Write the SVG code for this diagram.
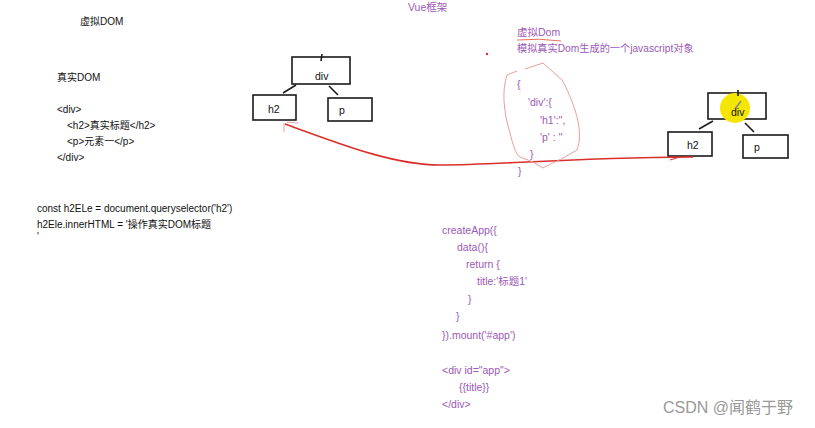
<svg xmlns="http://www.w3.org/2000/svg" width="815" height="428" viewBox="0 0 815 428">
<style>
text{font-family:"Liberation Sans","Noto Sans CJK SC",sans-serif;font-size:10.5px}
.k{fill:#111;font-size:10px}
.pu{fill:#9b59b6}
.box{fill:#fff;stroke:#1a1a1a;stroke-width:1.6}
.ln{stroke:#1a1a1a;stroke-width:1.6;fill:none}
.red{stroke:#d9302c;stroke-width:1.6;fill:none}
</style>
<rect width="815" height="428" fill="#fff"/>
<g id="left-notes">
<text class="k" x="80" y="25">虚拟DOM</text>
<text class="k" x="57" y="81">真实DOM</text>
<text class="k" x="57" y="113">&lt;div&gt;</text>
<text class="k" x="67" y="129">&lt;h2&gt;真实标题&lt;/h2&gt;</text>
<text class="k" x="67" y="145">&lt;p&gt;元素一&lt;/p&gt;</text>
<text class="k" x="57" y="161">&lt;/div&gt;</text>
<text class="k" x="37" y="212">const h2ELe = document.queryselector('h2')</text>
<text class="k" x="37" y="228">h2Ele.innerHTML = '操作真实DOM标题</text>
<text class="k" x="37" y="240">'</text>
</g>
<g id="tree1">
<g id="t1-div"><rect class="box" x="292" y="57" width="58" height="27"/><text class="k" x="315" y="80" style="font-size:10.5px">div</text></g>
<g id="t1-h2"><rect class="box" x="253" y="95" width="43" height="25"/><text class="k" x="268" y="113" style="font-size:10.5px">h2</text></g>
<g id="t1-p"><rect class="box" x="328" y="98" width="44" height="23"/><text class="k" x="339" y="114" style="font-size:10.5px">p</text></g>
</g>
<g id="tree2">
<g id="t2-div"><rect class="box" x="708" y="93" width="58" height="26"/><circle cx="735" cy="108" r="15" fill="#f5e600"/><path d="M735 109 L741 101" stroke="#888" stroke-width="1.5" fill="none"/><text class="k" x="731" y="116" style="font-size:10.5px">div</text></g>
<g id="t2-h2"><rect class="box" x="668" y="132" width="44" height="24"/><text class="k" x="687" y="149" style="font-size:10.5px">h2</text></g>
<g id="t2-p"><rect class="box" x="743" y="135" width="45" height="23"/><text class="k" x="754" y="151" style="font-size:10.5px">p</text></g>
</g>
<g id="connectors">
<path class="ln" d="M322 54 L321 61"/>
<path class="ln" d="M296 85 L283 93"/>
<path class="ln" d="M329 86 L338 95"/>
<path class="ln" d="M738 90 L738 96"/>
<path class="ln" d="M713 121 L699 129"/>
<path class="ln" d="M745 123 L754 132"/>
<path class="red" d="M285 124 C330 140, 390 165, 440 165 C500 165, 560 158, 693 157"/>
<path d="M284 123 L284 132 M287 122 L298 123" stroke="#f0a0a0" stroke-width="1" fill="none"/>
<path d="M670 160 L680 157" stroke="#d9302c" stroke-width="1" fill="none"/>
</g>
<g id="vue-notes">
<text class="pu" x="408" y="11">Vue框架</text>
<text class="pu" x="517" y="36">虚拟Dom</text>
<path d="M517 40 Q540 38 561 41" stroke="#e87060" stroke-width="1" fill="none"/>
<text class="pu" x="517" y="52" style="font-size:10.2px">模拟真实Dom生成的一个javascript对象</text>
<circle cx="487" cy="54" r="1.2" fill="#d9302c"/>
</g>
<g id="json">
<path d="M517 71 L507 75 C502 90 503 110 510 133 C513 145 516 155 520 157 L533 162 L543 168 C552 163 560 160 565 157 L577 150 C581 140 580 125 575 110 C570 95 565 85 562 80 L543 63 L525 69" stroke="#e8a098" stroke-width="1" fill="none"/>
<text class="pu" x="517" y="88">{</text>
<text class="pu" x="528" y="106">'div':{</text>
<text class="pu" x="540" y="124">'h1':'',</text>
<text class="pu" x="540" y="141">'p' : ''</text>
<text class="pu" x="530" y="158">}</text>
<text class="pu" x="518" y="175">}</text>
</g>
<g id="code">
<text class="pu" x="442" y="234">createApp({</text>
<text class="pu" x="457" y="251">data(){</text>
<text class="pu" x="466" y="268">return {</text>
<text class="pu" x="477" y="285">title:'标题1'</text>
<text class="pu" x="468" y="303">}</text>
<text class="pu" x="456" y="320">}</text>
<text class="pu" x="442" y="339">}).mount('#app')</text>
<text class="pu" x="442" y="374">&lt;div id="app"&gt;</text>
<text class="pu" x="459" y="391">{{title}}</text>
<text class="pu" x="442" y="408">&lt;/div&gt;</text>
</g>
<text x="663" y="413" style="font-size:16px;fill:#999">CSDN @闻鹤于野</text>
</svg>
